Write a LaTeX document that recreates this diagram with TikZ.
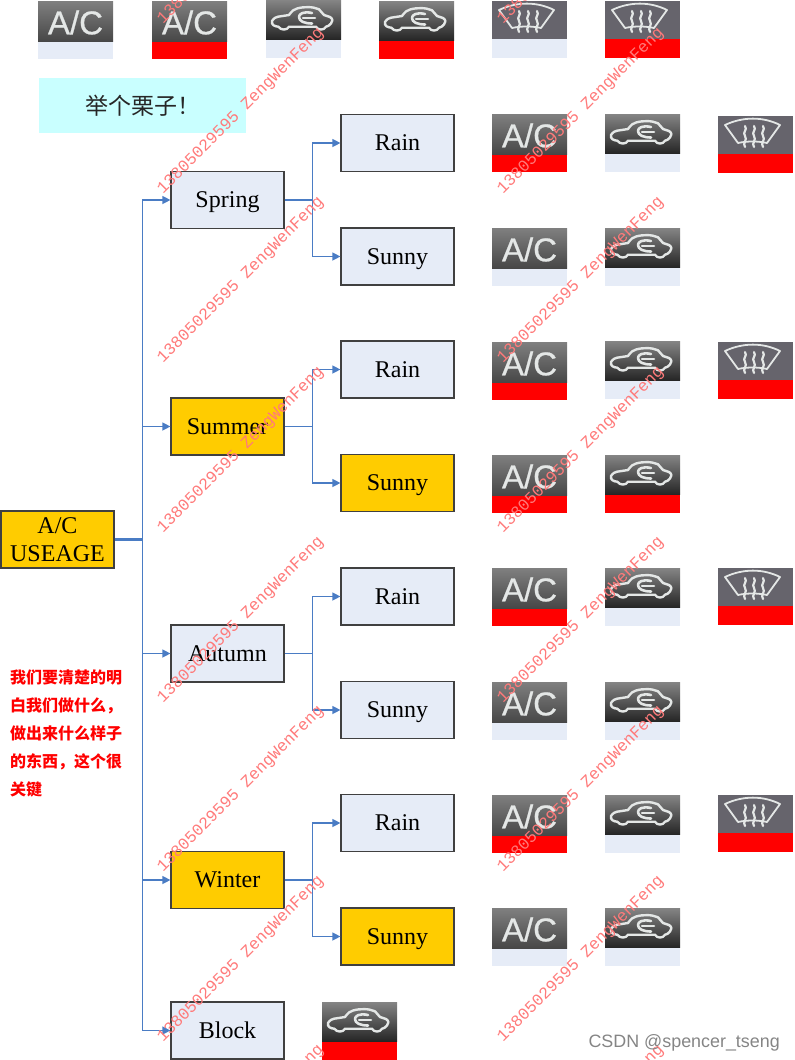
\documentclass[tikz,border=0pt]{standalone}
\usepackage{fontspec}
\setmainfont{Liberation Serif}
\newfontfamily\cjk{Noto Sans CJK SC}
\newfontfamily\wmfont{Liberation Mono}
\newfontfamily\hv{Liberation Sans}
\newfontfamily\hvheavy[FakeBold=0.7]{Liberation Sans}
\usetikzlibrary{arrows.meta}
\definecolor{paleblue}{HTML}{E6ECF7}
\definecolor{gold}{HTML}{FFCC00}
\definecolor{linkblue}{HTML}{4A7CC4}
\definecolor{paleaqua}{HTML}{C9FFFF}
\definecolor{glyph}{HTML}{E4E7E6}
\definecolor{frostbg}{HTML}{66646C}
\tikzset{
  box/.style={draw=black!75,line width=1.2pt,minimum width=113pt,minimum height=57pt,inner sep=0pt,font=\fontsize{24}{28}\selectfont,align=center,text=black},
  lightbox/.style={box,fill=paleblue,text height=17.5pt,text depth=2.5pt},
  goldbox/.style={box,fill=gold,text height=17.5pt,text depth=2.5pt},
  rootbox/.style={box,fill=gold},
  conn/.style={draw=linkblue,line width=1.3pt,-{Triangle[length=8pt,width=8pt]}},
  stub/.style={draw=linkblue,line width=2.2pt},
  thinstub/.style={draw=linkblue,line width=1.3pt},
  glyphline/.style={draw=glyph,line width=2.4pt,line join=round,line cap=round},
  wmark/.style={rotate=45,anchor=base west,inner sep=0pt,text=red!52!white,font=\wmfont\fontsize{16.5}{20}\selectfont}
}
\newcommand{\acicon}[4]{\begin{scope}[shift={(#2,#3)}]
  \fill[#4] (0,40) rectangle (75,58);
  \shade[top color=black!50,bottom color=black!72] (0,0) rectangle (75,40);
  \node[text=glyph,font=\hvheavy\fontsize{33}{33}\selectfont,inner sep=0pt] (#1) at (37.5,21.5) {A/C};
\end{scope}}
\newcommand{\caricon}[3]{\begin{scope}[shift={(#1,#2)}]
  \fill[#3] (0,39) rectangle (75,58);
  \shade[top color=black!48,middle color=black!70,bottom color=black!85] (0,0) rectangle (75,39);
  \draw[glyphline] (6,21) .. controls (8,18) and (10,17) .. (12,16.7) -- (23,15) .. controls (26,11) and (28,9) .. (31,8.5)
     .. controls (38,6.5) and (47,6.5) .. (53,9.3) -- (58,15) -- (64,17) .. controls (67,18.5) and (67,22) .. (65,23.5)
     .. controls (63,25.5) and (62,26.5) .. (60,26.7) .. controls (58,30.5) and (52,30.5) .. (50,26.7) -- (23,26.7)
     .. controls (21,30.5) and (15,30.5) .. (12.3,26.7) .. controls (9,26.5) and (5,25) .. (6,21) -- cycle;
  \draw[glyphline,line width=2.6pt] (46,13) .. controls (37,11) and (33,14) .. (33,17) .. controls (33,21) and (38,23.5) .. (46,23.5);
  \draw[glyphline,line width=2.6pt] (37,18) -- (49,18);
\end{scope}}
\newcommand{\defrosticon}[3]{\begin{scope}[shift={(#1,#2)}]
  \fill[#3] (0,38) rectangle (75,57);
  \fill[frostbg] (0,0) rectangle (75,38);
  \draw[glyphline,line width=1.8pt] (7,9) .. controls (25,0.5) and (45,0.5) .. (62,9) -- (49,27) .. controls (40,25) and (29,25) .. (20,27) -- cycle;
  \foreach \hx in {27,36,45}{
    \draw[glyphline,line width=2.2pt] (\hx,10) .. controls (\hx+3,14) and (\hx-3,16) .. (\hx,20) .. controls (\hx+3,24) and (\hx-3,27) .. (\hx,31);
  }
\end{scope}}
\begin{document}
\begin{tikzpicture}[x=1pt,y=-1pt]
\useasboundingbox (0,0) rectangle (795,1060);
% top legend
\acicon{ac1}{38}{1}{paleblue}
\acicon{ac2}{152}{1}{red}
\caricon{266}{0}{paleblue}
\caricon{379}{1}{red}
\defrosticon{492}{1}{paleblue}
\defrosticon{605}{1}{red}
\node[fill=paleaqua,minimum width=207pt,minimum height=55pt,inner sep=0pt,font=\cjk\fontsize{23}{26}\selectfont,text=black!85] (title) at (142.5,105.5) {举个栗子！};
% nodes
\node[rootbox] (root) at (57.5,539.5) {A/C\\USEAGE};
\node[lightbox] (spring) at (227.5,200) {Spring};
\node[goldbox] (summer) at (227.5,426.5) {Summer};
\node[lightbox] (autumn) at (227.5,653.5) {Autumn};
\node[goldbox] (winter) at (227.5,880) {Winter};
\node[lightbox] (block) at (227.5,1030.5) {Block};
\node[lightbox] (r1) at (397.5,143) {Rain};
\node[lightbox] (s1) at (397.5,256.5) {Sunny};
\node[lightbox] (r2) at (397.5,369.5) {Rain};
\node[goldbox] (s2) at (397.5,483) {Sunny};
\node[lightbox] (r3) at (397.5,596.5) {Rain};
\node[lightbox] (s3) at (397.5,710) {Sunny};
\node[lightbox] (r4) at (397.5,823) {Rain};
\node[goldbox] (s4) at (397.5,936.5) {Sunny};
% connectors
\draw[stub] (root.east) -- ++(28,0) coordinate (trunk);
\foreach \t in {spring,summer,autumn,winter,block}{\draw[conn] (trunk) |- (\t.west);}
\foreach \p/\a/\b/\st in {spring/r1/s1/stub,summer/r2/s2/thinstub,autumn/r3/s3/thinstub,winter/r4/s4/stub}{
  \draw[\st] (\p.east) -- ++(28,0) coordinate (j\p);
  \draw[conn] (j\p) |- (\a.west);
  \draw[conn] (j\p) |- (\b.west);
}
% icon rows
\acicon{a1}{492}{114}{red}      \caricon{605}{114}{paleblue} \defrosticon{718}{116}{red}
\acicon{a2}{492}{228}{paleblue} \caricon{605}{228}{paleblue}
\acicon{a3}{492}{342}{red}      \caricon{605}{341}{paleblue} \defrosticon{718}{342}{red}
\acicon{a4}{492}{455}{red}      \caricon{605}{455}{red}
\acicon{a5}{492}{568}{red}      \caricon{605}{568}{paleblue} \defrosticon{718}{568}{red}
\acicon{a6}{492}{682}{paleblue} \caricon{605}{682}{paleblue}
\acicon{a7}{492}{795}{red}      \caricon{605}{795}{paleblue} \defrosticon{718}{795}{red}
\acicon{a8}{492}{908}{paleblue} \caricon{605}{908}{paleblue}
\caricon{322}{1002}{red}
% red note
\node[anchor=north west,inner sep=0pt,align=left,text=red,font=\cjk\bfseries\fontsize{16}{28}\selectfont] (note) at (10,670) {我们要清楚的明\\白我们做什么，\\做出来什么样子\\的东西，这个很\\关键};
% watermarks
\begin{scope}
\clip (0,0) rectangle (795,1060);
\foreach \wx in {163,503}{
  \foreach \wy in {25,195,364,534,704,873,1043,1212}{
    \node[wmark] (w\wx-\wy) at (\wx,\wy) {13805029595 ZengWenFeng};
  }
}
\end{scope}
\node[anchor=base east,inner sep=0pt,text=black!48,font=\hv\fontsize{17.9}{20}\selectfont] (csdn) at (780,1047) {CSDN @spencer\_tseng};
\end{tikzpicture}
\end{document}
